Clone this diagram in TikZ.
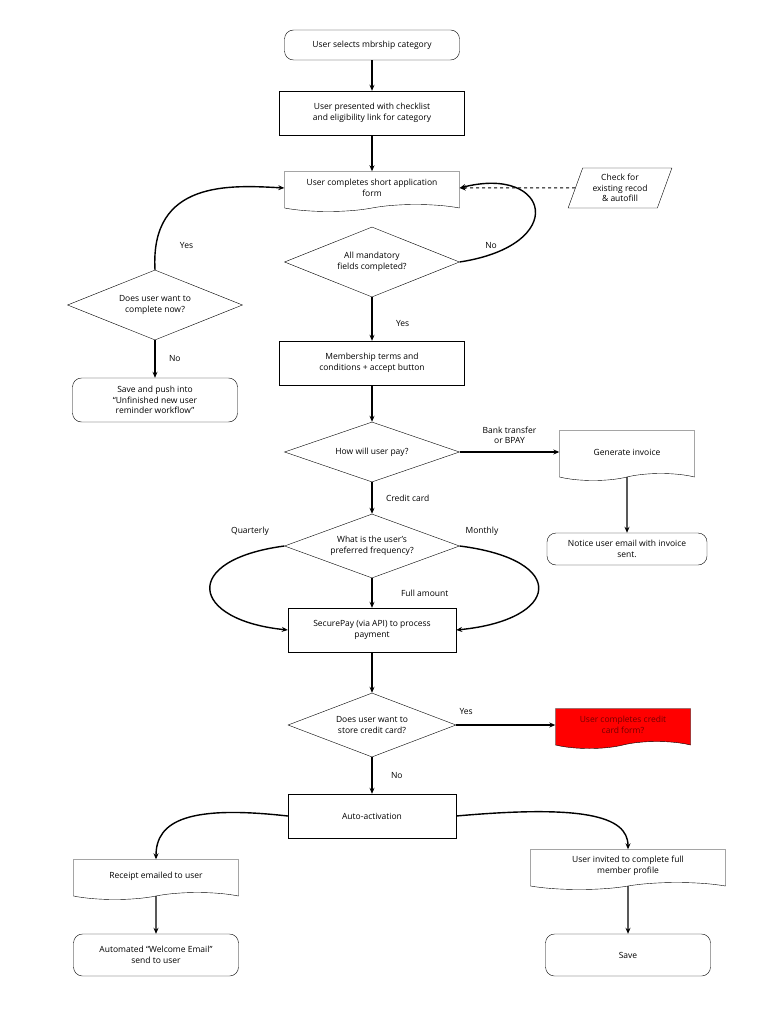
\documentclass[tikz,border=0pt]{standalone}
\usepackage{fontspec}
\setmainfont{Open Sans}
\usetikzlibrary{shapes.geometric,shapes.symbols,arrows.meta}
\tikzset{
  base/.style={draw,thin,align=center,font=\fontsize{8.5}{10.5}\selectfont,inner sep=2pt},
  term/.style={base,rounded corners=9pt,minimum width=#1},
  proc/.style={base,rectangle,minimum width=#1,minimum height=44pt},
  doc/.style={base,tape,tape bend top=none,tape bend height=7pt,minimum width=#1,minimum height=40pt},
  dec/.style={base,diamond,aspect=2.6,minimum width=#1,minimum height=64pt,inner sep=0pt},
  para/.style={base,trapezium,trapezium left angle=70,trapezium right angle=110,minimum height=40pt},
  arr/.style={-{Stealth[length=6pt,width=5pt]},line width=1.4pt},
  lab/.style={font=\fontsize{8.5}{10.5}\selectfont,align=center}
}
\begin{document}
\begin{tikzpicture}[x=1pt,y=-1pt]
\useasboundingbox (0,0) rectangle (768,1024);
\node[term=175pt,minimum height=30pt] (start) at (372,45) {User selects mbrship category};
\node[proc=185pt] (check) at (372,113) {User presented with checklist\\and eligibility link for category};
\node[doc=175pt] (form) at (372,188) {User completes short application\\form};
\node[para] (exist) at (620,188) {Check for\\existing recod\\\& autofill};
\node[dec=175pt,minimum height=70pt] (mand) at (372,262) {All mandatory\\fields completed?};
\node[dec=175pt,minimum height=70pt] (now) at (155,305) {Does user want to\\complete now?};
\node[term=165pt,minimum height=44pt] (push) at (155,400) {Save and push into\\``Unfinished new user\\reminder workflow''};
\node[proc=185pt] (terms) at (372,363) {Membership terms and\\conditions + accept button};
\node[dec=175pt,minimum height=60pt] (pay) at (372,452) {How will user pay?};
\node[doc=135pt,minimum height=50pt] (inv) at (627,452) {Generate invoice};
\node[term=160pt,minimum height=32pt] (notice) at (627,549) {Notice user email with invoice\\sent.};
\node[dec=175pt] (freq) at (372,546) {What is the user's\\preferred frequency?};
\node[proc=168pt] (secure) at (372,630) {SecurePay (via API) to process\\payment};
\node[dec=168pt] (store) at (372,725) {Does user want to\\store credit card?};
\node[doc=135pt,fill=red,text=red!45!black] (cc) at (623,725) {User completes credit\\card form?};
\node[proc=168pt] (auto) at (372,816) {Auto-activation};
\node[doc=165pt] (receipt) at (156,876) {Receipt emailed to user};
\node[doc=195pt] (invite) at (628,866) {User invited to complete full\\member profile};
\node[term=165pt,minimum height=42pt] (welcome) at (156,955) {Automated ``Welcome Email''\\send to user};
\node[term=165pt,minimum height=42pt] (save) at (628,955) {Save};

\draw[arr] (start) -- (check);
\draw[arr] (check) -- (form);
\draw[arr,dashed,line width=1pt] (exist.west) -- (form.east);
\draw[arr] (mand.east) .. controls (570,245) and (550,165) .. node[lab,pos=0.05,above right=6pt] {No} (form.east);
\draw[arr] (now.north) .. controls (150,180) and (230,185) .. node[lab,pos=0.1,right=20pt] {Yes} (form.west);
\draw[arr] (now) -- node[lab,right=10pt] {No} (push);
\draw[arr] (mand) -- node[lab,right=20pt,pos=0.6] {Yes} (terms);
\draw[arr] (terms) -- (pay);
\draw[arr] (pay.east) -- node[lab,above=4pt] {Bank transfer\\or BPAY} (inv.west);
\draw[arr] (inv) -- (notice);
\draw[arr] (pay) -- node[lab,right=10pt] {Credit card} (freq);
\draw[arr] (freq.west) .. controls (180,560) and (190,620) .. (secure.west);
\draw[arr] (freq.east) .. controls (570,560) and (560,620) .. (secure.east);
\node[lab] at (250,531) {Quarterly};
\node[lab] at (482,531) {Monthly};
\draw[arr] (freq) -- node[lab,right=25pt] {Full amount} (secure);
\draw[arr] (secure) -- (store);
\draw[arr] (store.east) -- node[lab,above=6pt,pos=0.1] {Yes} (cc.west);
\draw[arr] (store) -- node[lab,right=15pt] {No} (auto);
\draw[arr] (auto.west) .. controls (190,805) and (156,820) .. (receipt.north);
\draw[arr] (auto.east) .. controls (580,805) and (628,815) .. (invite.north);
\draw[arr] (receipt) -- (welcome);
\draw[arr] (invite) -- (save);
\end{tikzpicture}
\end{document}
